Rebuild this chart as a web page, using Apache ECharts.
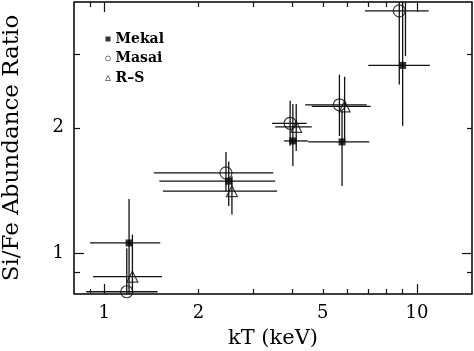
<!DOCTYPE html>
<html>
<head>
<meta charset="utf-8">
<script src="https://cdn.jsdelivr.net/npm/echarts@6/dist/echarts.min.js"></script>
<style>
html, body { margin: 0; padding: 0; background: #fff; }
#chart { width: 474px; height: 351px; }
</style>
</head>
<body>
<div id="chart"></div>
<script>
// rows: [kT, kT low, kT high, Si/Fe, Si/Fe low, Si/Fe high]
const mekal = [
  [1.20, 0.90, 1.51, 1.06, 0.70, 1.35],
  [2.50, 1.50, 3.52, 1.49, 1.30, 1.66],
  [4.01, 3.76, 4.48, 1.86, 1.62, 2.28],
  [5.76, 4.49, 7.04, 1.85, 1.45, 2.20],
  [9.00, 6.99, 11.0, 2.82, 2.02, 4.20]
]
const masai = [
  [1.18, 0.876, 1.48, 0.81, 0.70, 1.03],
  [2.45, 1.44, 3.47, 1.56, 1.41, 1.75],
  [3.93, 3.44, 4.44, 2.05, 1.81, 2.32],
  [5.65, 4.39, 6.91, 2.27, 1.91, 2.68],
  [8.78, 6.82, 10.9, 3.81, 2.54, 4.50]
]
const rs = [
  [1.23, 0.92, 1.53, 0.88, 0.70, 1.11],
  [2.56, 1.54, 3.57, 1.41, 1.24, 1.53],
  [4.11, 3.52, 4.61, 2.01, 1.76, 2.28],
  [5.87, 4.61, 7.11, 2.25, 1.86, 2.65],
  [9.19, 7.10, 11.3, 4.30, 2.97, 5.00]
]
const xLabelTicks = [1, 2, 5, 10]
const xMajorTicks = [1, 10]
const xMinorTicks = [0.9, 2, 3, 4, 5, 6, 7, 8, 9]
const yLabelTicks = [1, 2]
const yMajorTicks = [1]
const yMinorTicks = [0.9, 2, 3]

const font = 'DejaVu Serif'
const ink = '#111'

function axis(position, min, max, ticks, len, labels, extra) {
  let a = {
    type: 'log',
    logBase: 10,
    position: position,
    min: min,
    max: max,
    axisLine: { show: false },
    splitLine: { show: false },
    axisTick: {
      show: true,
      inside: true,
      length: len,
      customValues: ticks,
      lineStyle: { color: ink, width: 1.2 }
    },
    axisLabel: labels ? {
      show: true,
      customValues: labels,
      fontFamily: font,
      fontSize: 18,
      color: '#000',
      margin: 10,
      formatter: function (v) { return String(Math.round(v * 100) / 100) }
    } : { show: false }
  }
  return Object.assign(a, extra || {})
}

function errorBars(params, api) {
  let x = api.value(0)
  let y = api.value(3)
  let a = api.coord([api.value(1), y])
  let b = api.coord([api.value(2), y])
  let c = api.coord([x, api.value(4)])
  let d = api.coord([x, api.value(5)])
  let style = { stroke: ink, lineWidth: 1.3 }
  return {
    type: 'group',
    children: [
      { type: 'line', shape: { x1: a[0], y1: a[1], x2: b[0], y2: b[1] }, style: style },
      { type: 'line', shape: { x1: c[0], y1: c[1], x2: d[0], y2: d[1] }, style: style }
    ]
  }
}

function errSeries(name, data) {
  return {
    name: name + ' err',
    type: 'custom',
    renderItem: errorBars,
    data: data,
    encode: { x: 0, y: 3 },
    clip: true,
    silent: true,
    z: 1
  }
}

function pointSeries(name, data, symbol, size, itemStyle) {
  return {
    name: name,
    type: 'scatter',
    data: data,
    encode: { x: 0, y: 3 },
    symbol: symbol,
    symbolSize: size,
    itemStyle: itemStyle,
    clip: true,
    silent: true,
    z: 3
  }
}

let chart = echarts.init(document.getElementById('chart'))
let option = {
  animation: false,
  grid: {
    left: 74, right: 2, top: 2, bottom: 57,
    containLabel: false,
    outerBoundsMode: 'none',
    show: true,
    borderColor: '#000',
    borderWidth: 1.5,
    backgroundColor: 'transparent'
  },
  legend: {
    orient: 'vertical',
    left: 100,
    top: 27,
    itemWidth: 5,
    itemHeight: 5,
    itemGap: 5.5,
    textStyle: { fontFamily: font, fontSize: 14, fontWeight: 'bold', color: '#000' },
    data: [
      { name: 'Mekal', icon: 'rect', itemStyle: { color: '#000', borderWidth: 0 } },
      { name: 'Masai', icon: 'circle', itemStyle: { color: '#fff', borderColor: '#555', borderWidth: 1 } },
      { name: 'R–S', icon: 'triangle', itemStyle: { color: '#fff', borderColor: '#555', borderWidth: 1 } }
    ]
  },
  xAxis: [
    axis('bottom', 0.8, 15, xMajorTicks, 10, xLabelTicks, {
      name: 'kT (keV)',
      nameLocation: 'middle',
      nameGap: 34,
      nameTextStyle: { fontFamily: font, fontSize: 21, color: '#000' }
    }),
    axis('bottom', 0.8, 15, xMinorTicks, 5, null),
    axis('top', 0.8, 15, xMajorTicks, 10, null),
    axis('top', 0.8, 15, xMinorTicks, 5, null)
  ],
  yAxis: [
    axis('left', 0.8, 4, yMajorTicks, 10, yLabelTicks, {
      name: 'Si/Fe Abundance Ratio',
      nameLocation: 'middle',
      nameGap: 50,
      nameTextStyle: { fontFamily: font, fontSize: 23, color: '#000' }
    }),
    axis('left', 0.8, 4, yMinorTicks, 6, null),
    axis('right', 0.8, 4, yMajorTicks, 10, null),
    axis('right', 0.8, 4, yMinorTicks, 5, null)
  ],
  series: [
    errSeries('Mekal', mekal),
    errSeries('Masai', masai),
    errSeries('R–S', rs),
    pointSeries('Mekal', mekal, 'rect', 7, { color: '#000' }),
    pointSeries('Masai', masai, 'circle', 12, { color: 'transparent', borderColor: ink, borderWidth: 1.2 }),
    pointSeries('R–S', rs, 'triangle', 11, { color: 'transparent', borderColor: ink, borderWidth: 1.2 })
  ]
}
chart.setOption(option)

window.addEventListener('resize', function () {
  chart.resize()
})
</script>
</body>
</html>
